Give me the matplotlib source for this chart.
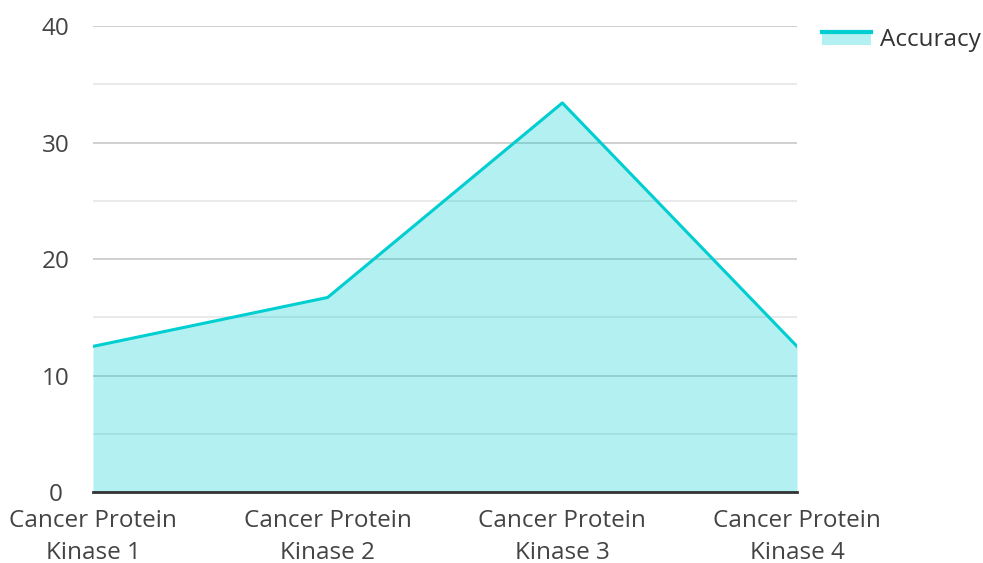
import matplotlib
matplotlib.use("Agg")
import matplotlib.pyplot as plt
from matplotlib.patches import Rectangle
from matplotlib.lines import Line2D
from matplotlib.legend_handler import HandlerBase

# Chart data
categories = ["Cancer Protein\nKinase 1", "Cancer Protein\nKinase 2",
              "Cancer Protein\nKinase 3", "Cancer Protein\nKinase 4"]
accuracy = [12.5, 16.7, 33.4, 12.5]
series_name = "Accuracy"

LINE_COLOR = "#00CED1"
FILL_ALPHA = 0.3

plt.rcParams["font.family"] = ["Open Sans", "DejaVu Sans"]


class AreaHandler(HandlerBase):
    """Legend key: light block with a line along its top edge."""
    def create_artists(self, legend, orig_handle, xdescent, ydescent,
                       width, height, fontsize, trans):
        rect = Rectangle((-xdescent, -ydescent), width, height,
                         facecolor=LINE_COLOR, alpha=FILL_ALPHA,
                         edgecolor="none", transform=trans)
        line = Line2D([-xdescent, -xdescent + width],
                      [-ydescent + height - 1, -ydescent + height - 1],
                      color=LINE_COLOR, linewidth=3, transform=trans)
        return [rect, line]


fig = plt.figure(figsize=(9.83, 5.63), dpi=100)
ax = fig.add_axes([0.0946, 0.1261, 0.7162, 0.8277])

x = list(range(len(categories)))
ax.fill_between(x, accuracy, 0, color=LINE_COLOR, alpha=FILL_ALPHA,
                linewidth=0, zorder=3)
ax.plot(x, accuracy, color=LINE_COLOR, linewidth=2.2, zorder=4)

ax.set_xlim(0, len(categories) - 1)
ax.set_ylim(0, 40)
ax.set_xticks(x)
ax.set_xticklabels(categories, linespacing=1.45)
ax.set_yticks([0, 10, 20, 30, 40])
ax.set_yticks([5, 15, 25, 35], minor=True)

# grid lines (under the translucent fill)
ax.grid(axis="y", which="major", color="#c8c8c8", linewidth=1.2, zorder=1)
ax.grid(axis="y", which="minor", color="#e6e6e6", linewidth=1.2, zorder=1)
ax.set_axisbelow(True)

for side in ["left", "right", "top"]:
    ax.spines[side].set_visible(False)
ax.spines["bottom"].set_color("#333333")
ax.spines["bottom"].set_linewidth(2)
ax.spines["bottom"].set_zorder(5)

ax.tick_params(axis="both", which="both", length=0, labelsize=17.5,
               labelcolor="#444444")
ax.tick_params(axis="y", pad=27)
ax.tick_params(axis="x", pad=12)
for lbl in ax.get_yticklabels():
    lbl.set_horizontalalignment("center")

key = object()
fig.legend([key], [series_name], handler_map={object: AreaHandler()},
           loc="upper left", bbox_to_anchor=(822 / 983, 0.95), frameon=False,
           borderpad=0, borderaxespad=0,
           fontsize=17.5, handlelength=2.0, handleheight=0.55,
           handletextpad=0.4, labelcolor="#333333")

fig.savefig("out.png", dpi=100)
